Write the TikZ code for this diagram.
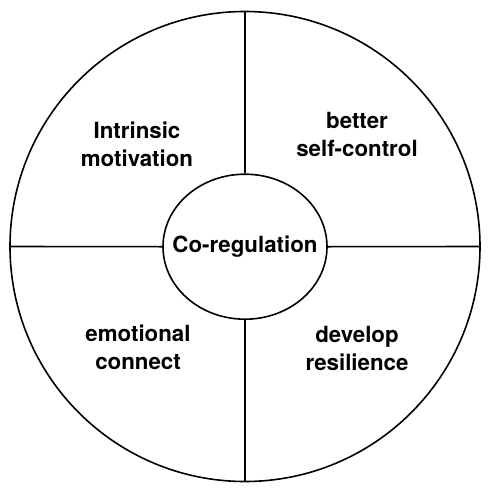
\documentclass[tikz,border=0pt]{standalone}
\usepackage{fontspec}
\setmainfont{TeX Gyre Heros}
\usetikzlibrary{shapes.geometric}

\begin{document}
\begin{tikzpicture}[
        x=1pt, y=-1pt,
        ring/.style={circle, draw, line width=1.6pt, minimum size=470pt, inner sep=0pt},
        core/.style={ellipse, draw, line width=1.6pt, minimum width=164pt, minimum height=145pt, inner xsep=-15pt, inner ysep=0pt, font=\bfseries\fontsize{22.3}{28}\selectfont},
        label/.style={align=center, inner sep=0pt, font=\bfseries\fontsize{22.3}{28}\selectfont},
        line/.style={draw, line width=1.6pt}
    ]
        \useasboundingbox (0,0) rectangle (489,493);
        \node [ring] (ring) at (245,246.5) {};
        \node [core] (core) at (245,246.7) {Co-regulation};

        \node [label] (intr) at (137,144.4) {Intrinsic\\motivation};
        \node [label] (self) at (357,134) {better\\self-control};
        \node [label] (emot) at (138,347.5) {emotional\\connect};
        \node [label] (resi) at (357,348.5) {develop\\resilience};

        \path [line] (ring.north) -- (core.north);
        \path [line] (ring.south) -- (core.south);
        \path [line] (ring.west) -- (core.west);
        \path [line] (ring.east) -- (core.east);
    \end{tikzpicture}
\end{document}
